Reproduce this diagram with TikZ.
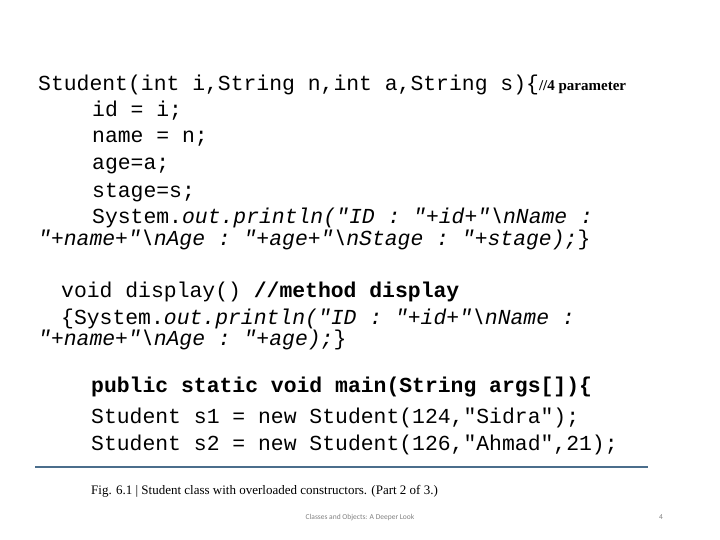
\documentclass[tikz,border=0pt]{standalone}
\usepackage{fontspec}
\setmainfont{Liberation Serif}
\setmonofont{Liberation Mono}
\setsansfont{Carlito}
\begin{document}
\begin{tikzpicture}[x=1pt,y=-1pt,
  code/.style={anchor=base west,inner sep=0pt,font=\fontsize{21.4}{24}\selectfont\ttfamily}]
\useasboundingbox (0,0) rectangle (720,540);
\newcommand{\bs}{\textbackslash}
\node[code] (l1) at (38,91) {Student(int i,String n,int a,String s)\{\textbf{\rmfamily\fontsize{15}{17}\selectfont//4 parameter}};
\node[code] (l2) at (92,117) {id = i;};
\node[code] (l3) at (92,143) {name = n;};
\node[code] (l4) at (92,170) {age=a;};
\node[code] (l5) at (92,197) {stage=s;};
\node[code] (l6) at (92,224) {System.\textit{out.println("ID : "+id+"\bs nName :}};
\node[code] (l7) at (38,245) {\textit{"+name+"\bs nAge : "+age+"\bs nStage : "+stage);}\}};
\node[code] (m1) at (61,297) {void display() \textbf{//method display}};
\node[code] (m2) at (61,324) {\{System.\textit{out.println("ID : "+id+"\bs nName :}};
\node[code] (m3) at (38,345) {\textit{"+name+"\bs nAge : "+age);}\}};
\node[code] (p1) at (91,392) {\textbf{public static void main(String args[])\{}};
\node[code] (p2) at (91,423) {Student s1 = new Student(124,"Sidra");};
\node[code] (p3) at (91,450) {Student s2 = new Student(126,"Ahmad",21);};
\coordinate (ra) at (35,467);
\coordinate (rb) at (648,467);
\draw[line width=1.6pt,color={rgb,255:red,75;green,110;blue,140}] (ra) -- (rb);
\node[anchor=base west,inner sep=0pt,font=\fontsize{13}{15}\selectfont] (cap) at (91,494) {Fig. 6.1 | Student class with overloaded constructors. (Part 2 of 3.)};
\node[anchor=base,inner sep=0pt,font=\sffamily\fontsize{7.5}{9}\selectfont,text=gray] (ft) at (360,519) {Classes and Objects: A Deeper Look};
\node[anchor=base,inner sep=0pt,font=\sffamily\fontsize{7.5}{9}\selectfont,text=gray] (pg) at (661,519) {4};
\end{tikzpicture}
\end{document}
